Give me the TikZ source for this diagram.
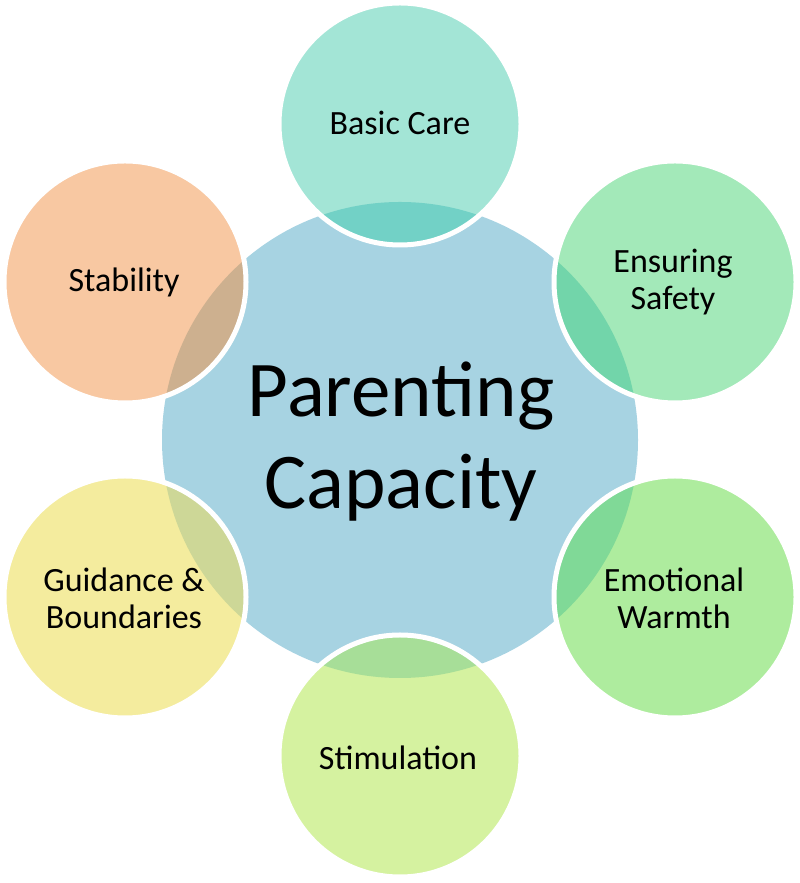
\documentclass[tikz,border=0pt]{standalone}
\usepackage{fontspec}
\setmainfont{Carlito}
\definecolor{hub}{HTML}{A7D3E2}
\definecolor{careC}{HTML}{A3E5D6}\definecolor{careD}{HTML}{72D1C6}
\definecolor{safeC}{HTML}{A3E9B9}\definecolor{safeD}{HTML}{72D5AA}
\definecolor{warmC}{HTML}{AEEC9E}\definecolor{warmD}{HTML}{80D997}
\definecolor{stimC}{HTML}{D5F2A0}\definecolor{stimD}{HTML}{A7DE98}
\definecolor{guidC}{HTML}{F4EC9E}\definecolor{guidD}{HTML}{CDD797}
\definecolor{stabC}{HTML}{F8C8A2}\definecolor{stabD}{HTML}{CDB08F}
\begin{document}
\begin{tikzpicture}[x=1pt,y=1pt,
  ring/.style={draw=white,line width=5pt},
  lbl/.style={align=center,font=\fontsize{34}{37}\selectfont},
  hubtext/.style={align=center,font=\fontsize{79}{92}\selectfont}]
\useasboundingbox (0,0) rectangle (800,883);
\fill[hub] (400,443) circle (238);

\fill[careC] (400,759) circle (121);
\begin{scope}\clip (400,759) circle (121); \fill[careD] (400,443) circle (238);\end{scope}
\draw[ring] (400,759) circle (121);

\fill[safeC] (675,601) circle (121);
\begin{scope}\clip (675,601) circle (121); \fill[safeD] (400,443) circle (238);\end{scope}
\draw[ring] (675,601) circle (121);

\fill[warmC] (675,286) circle (121);
\begin{scope}\clip (675,286) circle (121); \fill[warmD] (400,443) circle (238);\end{scope}
\draw[ring] (675,286) circle (121);

\fill[stimC] (400,127) circle (121);
\begin{scope}\clip (400,127) circle (121); \fill[stimD] (400,443) circle (238);\end{scope}
\draw[ring] (400,127) circle (121);

\fill[guidC] (125,286) circle (121);
\begin{scope}\clip (125,286) circle (121); \fill[guidD] (400,443) circle (238);\end{scope}
\draw[ring] (125,286) circle (121);

\fill[stabC] (125,601) circle (121);
\begin{scope}\clip (125,601) circle (121); \fill[stabD] (400,443) circle (238);\end{scope}
\draw[ring] (125,601) circle (121);

\node (hub) at (401,441)[hubtext]{Parenting\\Capacity};
\node (care) at (400,760)[lbl]{Basic Care};
\node (safe) at (673,601)[lbl]{Ensuring\\Safety};
\node (warm) at (674,285)[lbl]{Emotional\\Warmth};
\node (stim) at (398,125)[lbl]{Stimulation};
\node (guid) at (124,285)[lbl]{Guidance \&\\Boundaries};
\node (stab) at (124,601)[lbl]{Stability};
\end{tikzpicture}
\end{document}
